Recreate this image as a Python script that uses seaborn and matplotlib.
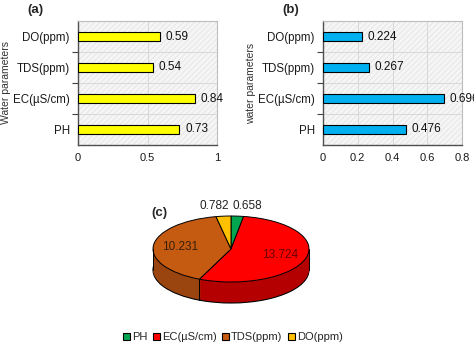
import numpy as np
import pandas as pd
import matplotlib
matplotlib.use("Agg")
import matplotlib.pyplot as plt
import seaborn as sns
from matplotlib.patches import Rectangle, Patch
from matplotlib.transforms import Affine2D

# ---------------- data ----------------
params = ["DO(ppm)", "TDS(ppm)", "EC(µS/cm)", "PH"]
vals_a = [0.59, 0.54, 0.84, 0.73]
vals_b = [0.224, 0.267, 0.696, 0.476]
labels_a = ["0.59", "0.54", "0.84", "0.73"]
labels_b = ["0.224", "0.267", "0.696", "0.476"]
xticks_a = [0, 0.5, 1]
xticks_b = [0, 0.2, 0.4, 0.6, 0.8]
xticklabels_a = ["0", "0.5", "1"]
xticklabels_b = ["0", "0.2", "0.4", "0.6", "0.8"]

pie_names = ["PH", "EC(µS/cm)", "TDS(ppm)", "DO(ppm)"]
pie_vals = [0.658, 13.724, 10.231, 0.782]
pie_labels = ["0.658", "13.724", "10.231", "0.782"]

sns.set_theme(style="white")
plt.rcParams["font.family"] = ["Liberation Sans", "DejaVu Sans"]
plt.rcParams["hatch.linewidth"] = 0.4

W, H = 474, 345
fig = plt.figure(figsize=(W / 100, H / 100), dpi=100)


def bar_panel(rect, vals, labels, color, xmax, xticks, xticklabels, tag, ylab, tagx):
    ax = fig.add_axes(rect)
    ax.add_patch(Rectangle((0, 0), 1, 1, transform=ax.transAxes, facecolor="#f5f5f5",
                           edgecolor="#dcdcdc", hatch="//////", lw=0, zorder=0))
    df = pd.DataFrame({"param": params, "value": vals})
    sns.barplot(data=df, x="value", y="param", order=params, orient="h", color=color,
                width=0.32, edgecolor="black", linewidth=0.8, saturation=1, ax=ax, zorder=3)
    ax.set_xlim(0, xmax)
    ax.set_ylim(3.5, -0.5)
    ax.set_xticks(xticks)
    ax.set_xticklabels(xticklabels, fontsize=8)
    ax.set_yticks(range(len(params)))
    ax.set_yticklabels(params, fontsize=8.3)
    ax.set_yticks([0.5, 1.5, 2.5], minor=True)
    ax.tick_params(axis="both", which="major", length=0, pad=6)
    ax.tick_params(axis="y", which="major", pad=6)
    ax.tick_params(axis="y", which="minor", length=4, width=0.8, color="#404040", direction="out", left=True)
    ax.tick_params(axis="both", labelcolor="#1a1a1a")
    for x in xticks[1:-1]:
        ax.axvline(x, color="#d4d4d4", lw=0.6, zorder=1)
    for y in [0.5, 1.5, 2.5]:
        ax.axhline(y, color="#d4d4d4", lw=0.6, zorder=1)
    for s in ["left", "bottom"]:
        ax.spines[s].set_color("#505050")
        ax.spines[s].set_linewidth(1.0)
    for s in ["top", "right"]:
        ax.spines[s].set_color("#bdbdbd")
        ax.spines[s].set_linewidth(0.8)
    for i, (v, lab) in enumerate(zip(vals, labels)):
        ax.annotate(lab, (v, i), xytext=(4, 0), textcoords="offset points",
                    va="center", ha="left", fontsize=8.5, color="#111111",
                    annotation_clip=False, zorder=4)
    ax.set_xlabel("")
    ax.set_ylabel(ylab, fontsize=7.5, color="#333333")
    ax.yaxis.set_label_coords(-0.48, 0.5)
    fig.text(tagx, 1 - 10 / H, tag, fontsize=9.5, fontweight="bold", ha="left", va="center")
    return ax


top, bot = 21, 145
bar_panel([78 / W, 1 - bot / H, 139 / W, (bot - top) / H], vals_a, labels_a, "#ffff00",
          1, xticks_a, xticklabels_a, "(a)", "Water parameters", 27 / W)
bar_panel([323 / W, 1 - bot / H, 139 / W, (bot - top) / H], vals_b, labels_b, "#00b0f0",
          0.8, xticks_b, xticklabels_b, "(b)", "water parameters", 282 / W)

# ---------------- 3D-style pie ----------------
pax = fig.add_axes([0, 0, 1, 175 / H])
top_colors = ["#00a650", "#ff0000", "#c55a11", "#ffc000"]
side_colors = ["#00803c", "#b40000", "#9a4510", "#c89600"]
cx, cy, rx, ry, depth = 231, 96, 78, 33, 21


def squash(dy):
    return Affine2D().translate(-cx, -cy).scale(1, ry / rx).translate(cx, cy + dy) + pax.transData


for k in range(depth, 0, -1):
    lw = 0.8 if k == depth else 0
    wedges, _ = pax.pie(pie_vals, colors=side_colors, startangle=90, counterclock=False,
                        radius=rx, center=(cx, cy),
                        wedgeprops=dict(linewidth=lw, edgecolor="black"))
    for w in wedges:
        w.set_transform(squash(-k))

wedges, _ = pax.pie(pie_vals, colors=top_colors, startangle=90, counterclock=False,
                    radius=rx, center=(cx, cy),
                    wedgeprops=dict(linewidth=0.7, edgecolor="black"))
for w in wedges:
    w.set_transform(squash(0))

total = sum(pie_vals)
cum = np.cumsum([0] + pie_vals)
bounds = 90 - 360 * cum / total
edge_angles = [180, 0] + [b for b in bounds[1:-1] if np.sin(np.radians(b)) < 0]
for a in edge_angles:
    x = cx + rx * np.cos(np.radians(a))
    y = cy + ry * np.sin(np.radians(a))
    pax.plot([x, x], [y, y - depth], color="black", lw=0.7, zorder=5)

mids = 90 - 360 * (cum[:-1] + np.array(pie_vals) / 2) / total
text_colors = ["#222222", "#6a0000", "#3a1f08", "#222222"]
for i, (m, lab) in enumerate(zip(mids, pie_labels)):
    c, s = np.cos(np.radians(m)), np.sin(np.radians(m))
    if pie_vals[i] / total > 0.1:
        pax.text(cx + 0.66 * rx * c, cy + 0.66 * ry * s, lab, ha="center", va="center",
                 fontsize=8.5, color=text_colors[i], zorder=6)
    else:
        pax.text(cx + 0.3 * rx * c, cy + 1.3 * ry * s, lab,
                 ha="left" if c > 0 else "right", va="center", fontsize=8.5,
                 color=text_colors[i], zorder=6)

pax.text(159, 345 - 213, "(c)", fontsize=9.5, fontweight="bold", ha="center", va="center")
pax.set_aspect("auto")
pax.set_xlim(0, W)
pax.set_ylim(0, 175)
pax.axis("off")

handles = [Patch(facecolor=c, edgecolor="black", linewidth=0.8) for c in top_colors]
fig.legend(handles, pie_names, loc="center", bbox_to_anchor=(233 / W, 1 - 337 / H),
           ncol=4, frameon=False, fontsize=8, handlelength=0.6, handleheight=0.6,
           handletextpad=0.2, columnspacing=0.5, borderpad=0)

fig.savefig("out.png", dpi=100)
